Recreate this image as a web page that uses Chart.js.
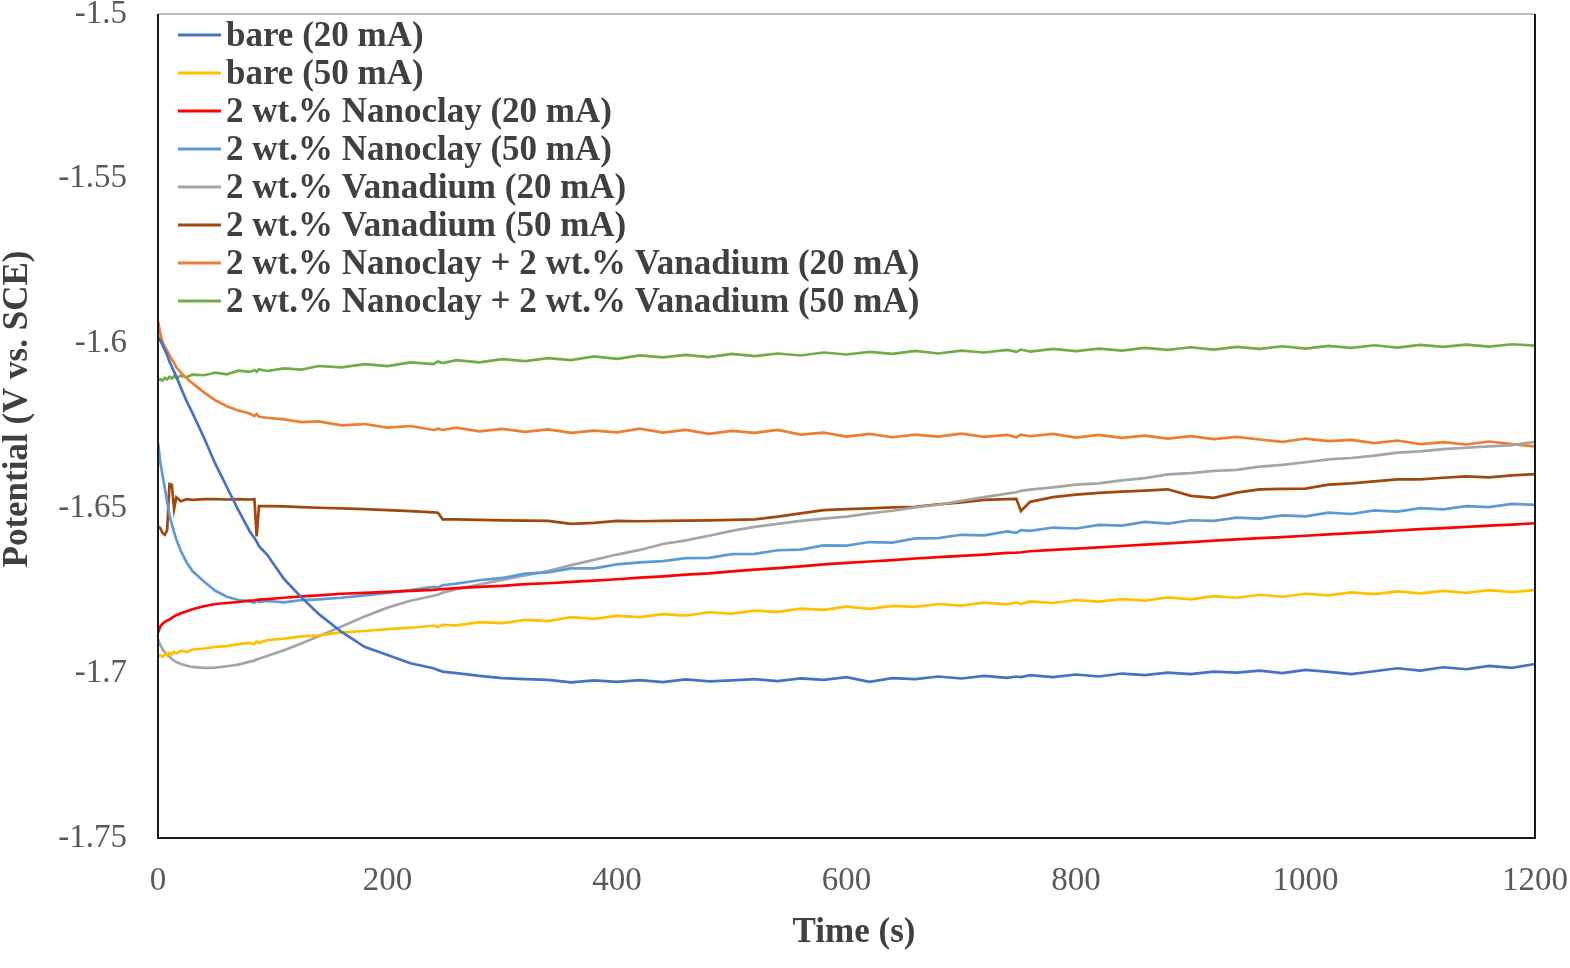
<!DOCTYPE html>
<html>
<head>
<meta charset="utf-8">
<script src="https://cdn.jsdelivr.net/npm/chart.js@4.4.1/dist/chart.umd.min.js"></script>
<style>
  body { margin: 0; background: #fff; }
  #wrap { width: 1570px; height: 968px; }
</style>
</head>
<body>
<div id="wrap"><canvas id="potentialChart" width="1570" height="968"></canvas></div>
<script>
// time (s)
const times = [
    0, 2, 4, 6, 8, 10, 12, 14, 16,
    20, 25, 30, 40, 50, 60, 70, 80,
    84, 86, 88, 95, 110, 125, 140,
    160, 180, 200, 220, 240, 244, 248,
    260, 280, 300, 320, 340, 360, 380, 400, 420, 440,
    460, 480, 500, 520, 540, 560, 580, 600, 620, 640,
    660, 680, 700, 720, 740, 748, 752,
    760, 780, 800, 820, 840, 860, 880, 900, 920, 940,
    960, 980, 1000, 1020, 1040, 1060, 1080, 1100, 1120, 1140, 1160, 1180, 1200
];

const seriesNames = [
    'bare (20 mA)',
    'bare (50 mA)',
    '2 wt.% Nanoclay (20 mA)',
    '2 wt.% Nanoclay (50 mA)',
    '2 wt.% Vanadium (20 mA)',
    '2 wt.% Vanadium (50 mA)',
    '2 wt.% Nanoclay + 2 wt.% Vanadium (20 mA)',
    '2 wt.% Nanoclay + 2 wt.% Vanadium (50 mA)'
];
const seriesColors = ['#4472C4', '#FFC000', '#FF0000', '#5B9BD5', '#A5A5A5', '#9E480E', '#ED7D31', '#70AD47'];

const bare20 = [
    -1.598, -1.599, -1.6005, -1.602, -1.6035, -1.6055, -1.607, -1.6085, -1.610,
    -1.6135, -1.6175, -1.621, -1.6285, -1.6365, -1.6435, -1.6505, -1.657,
    -1.659, -1.660, -1.6615, -1.664, -1.6715, -1.677, -1.682,
    -1.6875, -1.692, -1.6945, -1.697, -1.6985, -1.699, -1.6995,
    -1.700, -1.7008, -1.7015, -1.7018, -1.702, -1.7028, -1.7022, -1.7026, -1.7021, -1.7027,
    -1.7019, -1.7025, -1.7022, -1.7018, -1.7024, -1.7016, -1.702, -1.7012, -1.7026, -1.7015,
    -1.7018, -1.701, -1.7016, -1.7008, -1.7014, -1.701, -1.7012,
    -1.7006, -1.7012, -1.7004, -1.701, -1.7001, -1.7006, -1.6998, -1.7003, -1.6995, -1.6998,
    -1.6992, -1.700, -1.699, -1.6996, -1.7003, -1.6994, -1.6985, -1.6992, -1.6982, -1.6988, -1.6978, -1.6984, -1.6972
];
const bare50 = [
    -1.695, -1.6945, -1.695, -1.6942, -1.6946, -1.6938, -1.6943, -1.6935, -1.694,
    -1.6932, -1.6936, -1.6928, -1.6925, -1.692, -1.6918, -1.6912, -1.6908,
    -1.6912, -1.6903, -1.6908, -1.690, -1.6895, -1.6888, -1.6885,
    -1.6876, -1.6872, -1.6866, -1.6862, -1.6856, -1.686, -1.6853,
    -1.6855, -1.6845, -1.6848, -1.6838, -1.6842, -1.683, -1.6835, -1.6826, -1.683, -1.6821,
    -1.6825, -1.6815, -1.6819, -1.681, -1.6814, -1.6804, -1.6808, -1.6798, -1.6805, -1.6796,
    -1.6799, -1.679, -1.6795, -1.6786, -1.6791, -1.6785, -1.679,
    -1.6782, -1.6787, -1.6778, -1.6783, -1.6775, -1.678, -1.677, -1.6776, -1.6766, -1.6771,
    -1.6762, -1.6768, -1.6759, -1.6764, -1.6755, -1.676, -1.6752, -1.6758, -1.675, -1.6756, -1.6748, -1.6754, -1.6748
];
const nanoclay20 = [
    -1.6877, -1.6858, -1.685, -1.6844, -1.684, -1.6837, -1.6832, -1.6828, -1.6824,
    -1.6818, -1.6812, -1.6806, -1.6797, -1.679, -1.6787, -1.6784, -1.678,
    -1.6779, -1.6778, -1.6777, -1.6775, -1.6771, -1.6767, -1.6764,
    -1.6759, -1.6756, -1.6753, -1.675, -1.6747, -1.6746, -1.6745,
    -1.6742, -1.6738, -1.6735, -1.673, -1.6727, -1.6723, -1.6719, -1.6715, -1.671, -1.6706,
    -1.6701, -1.6697, -1.6691, -1.6686, -1.6681, -1.6676, -1.667, -1.6665, -1.6661, -1.6657,
    -1.6652, -1.6648, -1.6644, -1.664, -1.6635, -1.6634, -1.6633,
    -1.663, -1.6626, -1.6622, -1.6618, -1.6614, -1.661, -1.6606, -1.6602, -1.6598, -1.6594,
    -1.659, -1.6587, -1.6583, -1.6579, -1.6575, -1.6571, -1.6567, -1.6563, -1.656, -1.6556, -1.6552, -1.6549, -1.6545
];
const nanoclay50 = [
    -1.630, -1.636, -1.640, -1.644, -1.648, -1.652, -1.6548, -1.6572, -1.6594,
    -1.663, -1.6664, -1.669, -1.6722, -1.675, -1.6768, -1.6778, -1.6782,
    -1.6786, -1.6779, -1.6784, -1.6781, -1.6785, -1.6778, -1.6776,
    -1.6771, -1.6764, -1.6756, -1.6748, -1.6738, -1.674, -1.6733,
    -1.6728, -1.6718, -1.6711, -1.6698, -1.6694, -1.6682, -1.6682, -1.667, -1.6664, -1.666,
    -1.6651, -1.665, -1.6639, -1.6638, -1.6627, -1.6625, -1.6612, -1.6613, -1.6602, -1.6604,
    -1.6591, -1.659, -1.658, -1.6582, -1.657, -1.6574, -1.6566,
    -1.6568, -1.6558, -1.6561, -1.655, -1.6552, -1.6541, -1.6546, -1.6536, -1.6538, -1.6528,
    -1.6531, -1.6521, -1.6524, -1.6513, -1.6517, -1.6506, -1.651, -1.6499, -1.6503, -1.6493, -1.6496, -1.6486, -1.6489
];
const vanadium20 = [
    -1.6898, -1.6915, -1.6928, -1.6936, -1.6944, -1.695, -1.6957, -1.6962, -1.6966,
    -1.6972, -1.6977, -1.6981, -1.6984, -1.6983, -1.6979, -1.6974, -1.6965,
    -1.6962, -1.6958, -1.6956, -1.6948, -1.693, -1.691, -1.6888,
    -1.6858, -1.6828, -1.6801, -1.678, -1.6765, -1.6762, -1.6756,
    -1.6745, -1.6731, -1.6717, -1.6703, -1.669, -1.6672, -1.6656, -1.664, -1.6626, -1.6608,
    -1.6597, -1.6583, -1.6568, -1.6556, -1.6547, -1.6538, -1.6531, -1.6525, -1.6515, -1.6507,
    -1.6497, -1.6489, -1.6477, -1.6466, -1.6455, -1.6451, -1.6447,
    -1.6443, -1.6436, -1.6428, -1.6424, -1.6415, -1.6408, -1.6397, -1.6393, -1.6386, -1.6383,
    -1.6373, -1.6368, -1.636, -1.6351, -1.6347, -1.634, -1.6331, -1.6327, -1.632, -1.6316, -1.6312, -1.6308, -1.6298
];
const vanadium50 = [
    -1.6554, -1.656, -1.6575, -1.658, -1.6565, -1.6426, -1.6428, -1.6502, -1.6466,
    -1.6478, -1.6472, -1.6474, -1.6472, -1.6472, -1.6473, -1.6472, -1.6473,
    -1.6472, -1.6585, -1.6493, -1.6493, -1.6494, -1.6496, -1.6498,
    -1.65, -1.6502, -1.6505, -1.6508, -1.6512, -1.6513, -1.6533,
    -1.6533, -1.6535, -1.6536, -1.6537, -1.6538, -1.6547, -1.6544, -1.6538, -1.6539, -1.6538,
    -1.6537, -1.6536, -1.6535, -1.6533, -1.6525, -1.6515, -1.6505, -1.6502, -1.65, -1.6497,
    -1.6495, -1.6488, -1.6482, -1.6474, -1.6472, -1.6471, -1.6508,
    -1.648, -1.6466, -1.6458, -1.6453, -1.6449, -1.6446, -1.6442, -1.6462, -1.6468, -1.6452,
    -1.6442, -1.6441, -1.644, -1.6428, -1.6424, -1.6418, -1.6412, -1.6412, -1.6407, -1.6403, -1.6406, -1.64, -1.6396
];
const mixed20 = [
    -1.5931, -1.597, -1.5995, -1.601, -1.6022, -1.6035, -1.6048, -1.6058, -1.6072,
    -1.6088, -1.6105, -1.612, -1.6148, -1.6172, -1.619, -1.6203, -1.6212,
    -1.622, -1.6214, -1.6222, -1.6225, -1.623, -1.6238, -1.6236,
    -1.6248, -1.6244, -1.6255, -1.625, -1.6262, -1.6258, -1.6262,
    -1.6255, -1.6266, -1.6259, -1.6268, -1.626, -1.6271, -1.6264, -1.6269, -1.6258, -1.627,
    -1.6262, -1.6274, -1.6265, -1.6271, -1.6262, -1.6276, -1.627, -1.6282, -1.6274, -1.6284,
    -1.6276, -1.6282, -1.6273, -1.6283, -1.6277, -1.6284, -1.6276,
    -1.6281, -1.6274, -1.6285, -1.6277, -1.6286, -1.6279, -1.6288, -1.6281, -1.629, -1.6283,
    -1.6291, -1.6298, -1.6288, -1.6296, -1.6292, -1.6302, -1.6294, -1.6305, -1.6299, -1.6306, -1.6297, -1.6305, -1.6312
];
const mixed50 = [
    -1.611, -1.6108, -1.6112, -1.6104, -1.6109, -1.6101, -1.6106, -1.6099, -1.6104,
    -1.6097, -1.6102, -1.6094, -1.6096, -1.6088, -1.6093, -1.6082, -1.6086,
    -1.608, -1.6085, -1.6078, -1.6083, -1.6075, -1.6079, -1.6068,
    -1.6072, -1.6062, -1.6068, -1.6057, -1.6062, -1.6054, -1.6059,
    -1.605, -1.6057, -1.6047, -1.6053, -1.6044, -1.605, -1.6039, -1.6046, -1.6036, -1.6042,
    -1.6034, -1.6041, -1.6031, -1.6038, -1.603, -1.6036, -1.6027, -1.6033, -1.6025, -1.6031,
    -1.6022, -1.603, -1.6021, -1.6027, -1.6019, -1.6025, -1.6018,
    -1.6024, -1.6016, -1.6023, -1.6015, -1.6021, -1.6013, -1.6019, -1.6011, -1.6018, -1.601,
    -1.6016, -1.6008, -1.6015, -1.6007, -1.6013, -1.6005, -1.6012, -1.6004, -1.601, -1.6003, -1.6009, -1.6002, -1.6006
];

const allSeries = [bare20, bare50, nanoclay20, nanoclay50, vanadium20, vanadium50, mixed20, mixed50];

const serif = "'Liberation Serif', 'Times New Roman', serif";

const datasets = allSeries.map((vals, i) => ({
    label: seriesNames[i],
    data: times.map((t, j) => ({ x: t, y: vals[j] })),
    borderColor: seriesColors[i],
    backgroundColor: seriesColors[i],
    borderWidth: 2.7,
    pointRadius: 0,
    tension: 0,
    fill: false
}));

// frame, axis titles and legend list drawn by hand (excel style)
const excelBits = {
    id: 'excelBits',
    afterDraw(chart) {
        const ctx = chart.ctx;
        const a = chart.chartArea;
        ctx.save();

        ctx.strokeStyle = '#a6a6a6';
        ctx.lineWidth = 1.5;
        ctx.beginPath();
        ctx.moveTo(a.left, a.top);
        ctx.lineTo(a.right, a.top);
        ctx.stroke();

        ctx.strokeStyle = '#1a1a1a';
        ctx.lineWidth = 2;
        ctx.beginPath();
        ctx.moveTo(a.left, a.top);
        ctx.lineTo(a.left, a.bottom);
        ctx.lineTo(a.right, a.bottom);
        ctx.lineTo(a.right, a.top);
        ctx.stroke();

        ctx.fillStyle = '#404040';
        ctx.font = 'bold 35px ' + serif;
        ctx.textAlign = 'center';
        ctx.textBaseline = 'middle';
        ctx.fillText('Time (s)', 854, 933);

        ctx.translate(18, 409);
        ctx.rotate(-Math.PI / 2);
        ctx.fillText('Potential (V vs. SCE)', 0, 0);
        ctx.setTransform(1, 0, 0, 1, 0, 0);

        // legend
        ctx.font = 'bold 35px ' + serif;
        ctx.textAlign = 'left';
        chart.data.datasets.forEach((ds, i) => {
            const y = 35 + i * 38;
            ctx.strokeStyle = ds.borderColor;
            ctx.lineWidth = 3;
            ctx.beginPath();
            ctx.moveTo(178, y);
            ctx.lineTo(221, y);
            ctx.stroke();
            ctx.fillStyle = '#404040';
            ctx.fillText(ds.label, 226, y + 2);
        });
        ctx.restore();
    }
};

new Chart(document.getElementById('potentialChart'), {
    type: 'line',
    data: { datasets: datasets },
    plugins: [excelBits],
    options: {
        responsive: false,
        animation: false,
        layout: { padding: { top: 14, right: 35, left: 0, bottom: 0 } },
        plugins: {
            legend: { display: false },
            tooltip: { enabled: false }
        },
        scales: {
            x: {
                type: 'linear',
                min: 0,
                max: 1200,
                ticks: {
                    stepSize: 200,
                    padding: 0,
                    color: '#595959',
                    font: { family: serif, size: 33, lineHeight: 0.85 },
                    callback: (value) => String(value)
                },
                grid: { display: false, drawTicks: true, tickLength: 29 },
                border: { display: false },
                afterFit: (scale) => { scale.height = 130; }
            },
            y: {
                min: -1.75,
                max: -1.5,
                ticks: {
                    stepSize: 0.05,
                    padding: 0,
                    color: '#595959',
                    font: { family: serif, size: 33, lineHeight: 0.85 },
                    callback: (value) => String(Number(value.toFixed(2)))
                },
                grid: { display: false, drawTicks: true, tickLength: 31 },
                border: { display: false },
                afterFit: (scale) => { scale.width = 158; }
            }
        }
    }
});
</script>
</body>
</html>
